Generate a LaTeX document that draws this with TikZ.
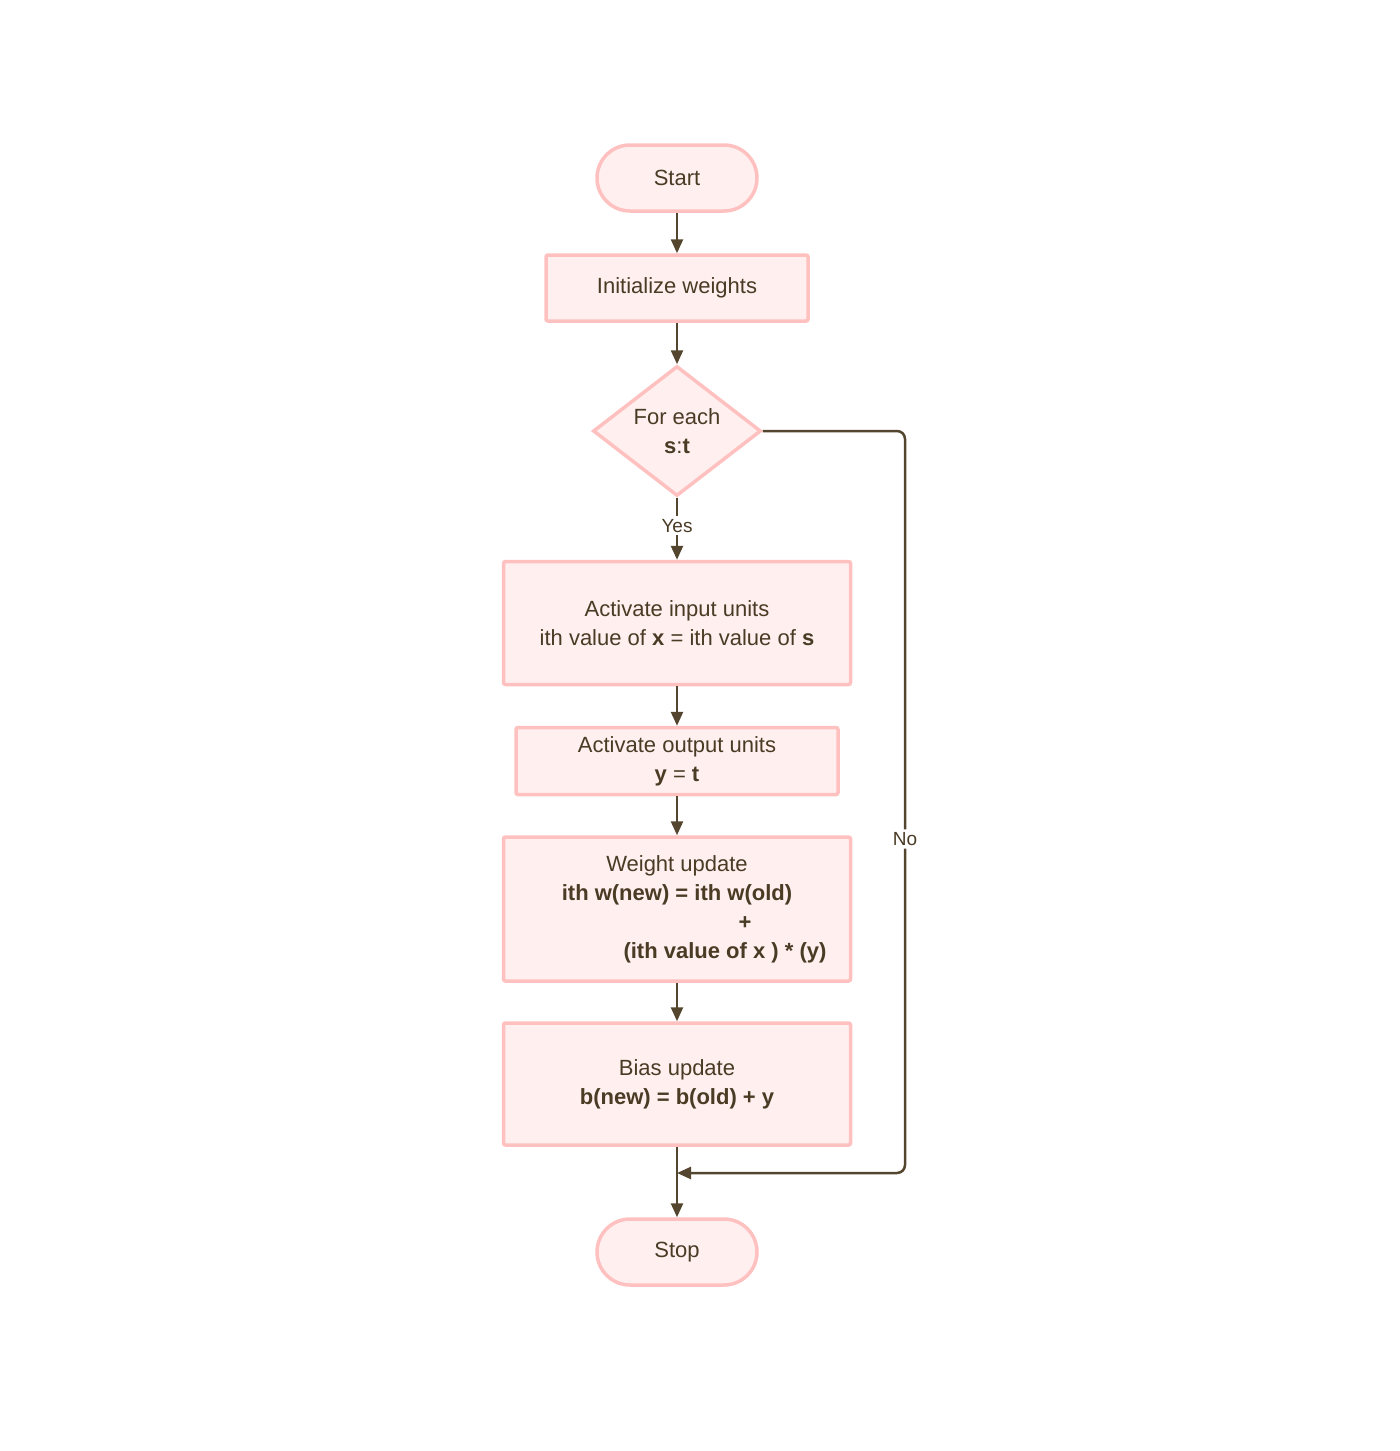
\documentclass[tikz,border=0pt]{standalone}
\usepackage{fontspec}
\setmainfont{Liberation Sans}
\usetikzlibrary{shapes.geometric,arrows.meta}
\definecolor{boxfill}{HTML}{FFEFEF}
\definecolor{boxline}{HTML}{FFC0C0}
\definecolor{txt}{HTML}{4A3B25}
\definecolor{arr}{HTML}{54462E}
\begin{document}
\begin{tikzpicture}[x=1pt,y=-1pt,
  base/.style={draw=boxline,fill=boxfill,line width=3.5pt,text=txt,font=\fontsize{22}{29}\selectfont,align=center,inner sep=0pt},
  term/.style={base,rounded corners=33pt,minimum width=160pt,minimum height=66pt},
  proc/.style={base,rounded corners=2pt},
  dec/.style={base,diamond,minimum width=168pt,minimum height=130pt,aspect=1.3},
  conn/.style={draw=arr,line width=2.5pt,-{Triangle[length=14pt,width=12pt]}},
  lab/.style={text=txt,fill=white,font=\fontsize{19}{22}\selectfont,inner sep=3pt}]
\useasboundingbox (0,0) rectangle (1400,1451);
\node[term] (start) at (677,178) {Start};
\node[proc,minimum width=262pt,minimum height=66pt] (init) at (677,288) {Initialize weights};
\node[dec] (dec) at (677,431) {For each\\\textbf{s}:\textbf{t}};
\node[proc,minimum width=347pt,minimum height=123pt] (ain) at (677,623) {Activate input units\\ith value of \textbf{x} = ith value of \textbf{s}};
\node[proc,minimum width=322pt,minimum height=67pt] (aout) at (677,761) {Activate output units\\\textbf{y} = \textbf{t}};
\node[proc,minimum width=347pt,minimum height=144pt] (wu) at (677,909) {Weight update\\\textbf{ith w(new) = ith w(old)}\\\hspace*{136pt}\textbf{+}\\\hspace*{96pt}\textbf{(ith value of x ) * (y)}};
\node[proc,minimum width=347pt,minimum height=122pt] (bu) at (677,1084) {Bias update\\\textbf{b(new) = b(old) + y}};
\node[term] (stop) at (677,1252) {Stop};
\coordinate (m) at (677,1173);
\draw[conn] (start) -- (init);
\draw[conn] (init) -- (dec);
\draw[conn] (dec) -- node[lab,pos=0.45]{Yes} (ain);
\draw[conn] (ain) -- (aout);
\draw[conn] (aout) -- (wu);
\draw[conn] (wu) -- (bu);
\draw[conn] (bu) -- (stop);
\draw[conn,rounded corners=8pt] (dec.east) -- (905,431) -- node[lab,pos=0.55]{No} (905,1173) -- (m);
\end{tikzpicture}
\end{document}
